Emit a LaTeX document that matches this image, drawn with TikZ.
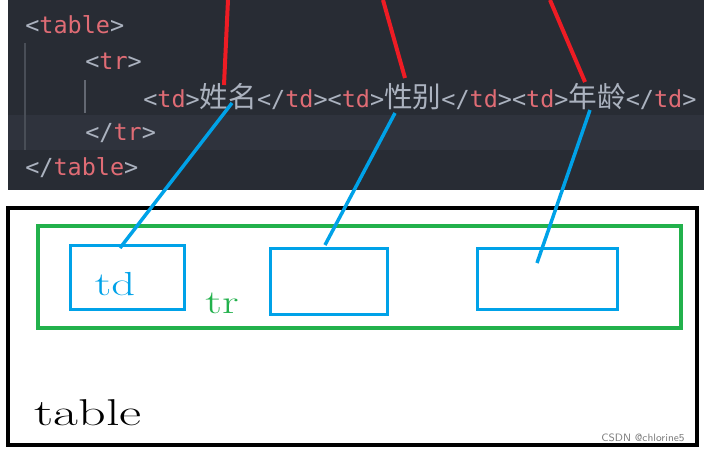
\documentclass[tikz,border=0pt]{standalone}
\usepackage{fontspec}
\setmonofont{DejaVu Sans Mono}
\newfontfamily\cjk[Scale=1.22]{Noto Sans CJK SC}
\begin{document}
\begin{tikzpicture}[x=0.75pt,y=-0.75pt,
  codetxt/.style={anchor=west,inner sep=0,font=\ttfamily\fontsize{17.6}{20}\selectfont,text=br},
  redln/.style={draw=rl,line width=3pt},
  blueln/.style={draw=bl,line width=2.6pt},
  cell/.style={draw=bl,line width=2.4pt}]
\definecolor{bg}{HTML}{282C34}
\definecolor{band}{HTML}{2F333D}
\definecolor{tg}{HTML}{E06C75}
\definecolor{br}{HTML}{ABB2BF}
\definecolor{rl}{HTML}{EE1C24}
\definecolor{bl}{HTML}{00A2E8}
\definecolor{gr}{HTML}{22B14C}
\useasboundingbox (0,0) rectangle (711,454);
\fill[white] (0,0) rectangle (711,454);
\fill[bg] (8,0) rectangle (704,190);
\fill[band] (8,115) rectangle (704,150);
\draw[br!25!bg,line width=0.8pt] (25,43) -- (25,150);
\draw[br!45!bg,line width=0.8pt] (85,80) -- (85,113);
\node[codetxt] (l1) at (25,25) {<\textcolor{tg}{table}>};
\node[codetxt] (l2) at (85,61) {<\textcolor{tg}{tr}>};
\node[codetxt] (l3) at (143,97) {<\textcolor{tg}{td}>{\cjk 姓名}</\textcolor{tg}{td}><\textcolor{tg}{td}>{\cjk 性别}</\textcolor{tg}{td}><\textcolor{tg}{td}>{\cjk 年龄}</\textcolor{tg}{td}>};
\node[codetxt] (l4) at (85,133) {</\textcolor{tg}{tr}>};
\node[codetxt] (l5) at (25,168) {</\textcolor{tg}{table}>};
\coordinate (r1a) at (228,0); \coordinate (r1b) at (224,85);
\coordinate (r2a) at (383,0); \coordinate (r2b) at (405,78);
\coordinate (r3a) at (550,0); \coordinate (r3b) at (585,82);
\draw[redln] (r1a) -- (r1b);
\draw[redln] (r2a) -- (r2b);
\draw[redln] (r3a) -- (r3b);
\draw[black,line width=3pt] (8,208) rectangle (697,445);
\draw[gr,line width=2.4pt] (38,226) rectangle (681,328);
\node[cell,minimum width=86pt,minimum height=48pt] (c1) at (127.5,277.5) {};
\node[cell,minimum width=88pt,minimum height=50pt] (c2) at (329,281.5) {};
\node[cell,minimum width=105pt,minimum height=46pt] (c3) at (547.5,279) {};
\node[text=bl,font=\fontsize{25}{28}\selectfont,inner sep=0] (tdl) at (115,284) {\scalebox{1.4}[1]{td}};
\node[text=gr,font=\fontsize{25}{28}\selectfont,inner sep=0] (trl) at (222,303) {\scalebox{1.4}[1]{tr}};
\node[text=black,font=\fontsize{28}{32}\selectfont,inner sep=0] (tbl) at (88,413) {\scalebox{1.45}[1]{table}};
\coordinate (b1a) at (232,103); \coordinate (b1b) at (120,248);
\coordinate (b2a) at (395,113); \coordinate (b2b) at (325,245);
\coordinate (b3a) at (590,110); \coordinate (b3b) at (537,263);
\draw[blueln] (b1a) -- (b1b);
\draw[blueln] (b2a) -- (b2b);
\draw[blueln] (b3a) -- (b3b);
\node[text=gray,font=\sffamily\fontsize{8}{9}\selectfont,inner sep=0] (wm) at (643,438) {CSDN @chlorine5};
\end{tikzpicture}
\end{document}
